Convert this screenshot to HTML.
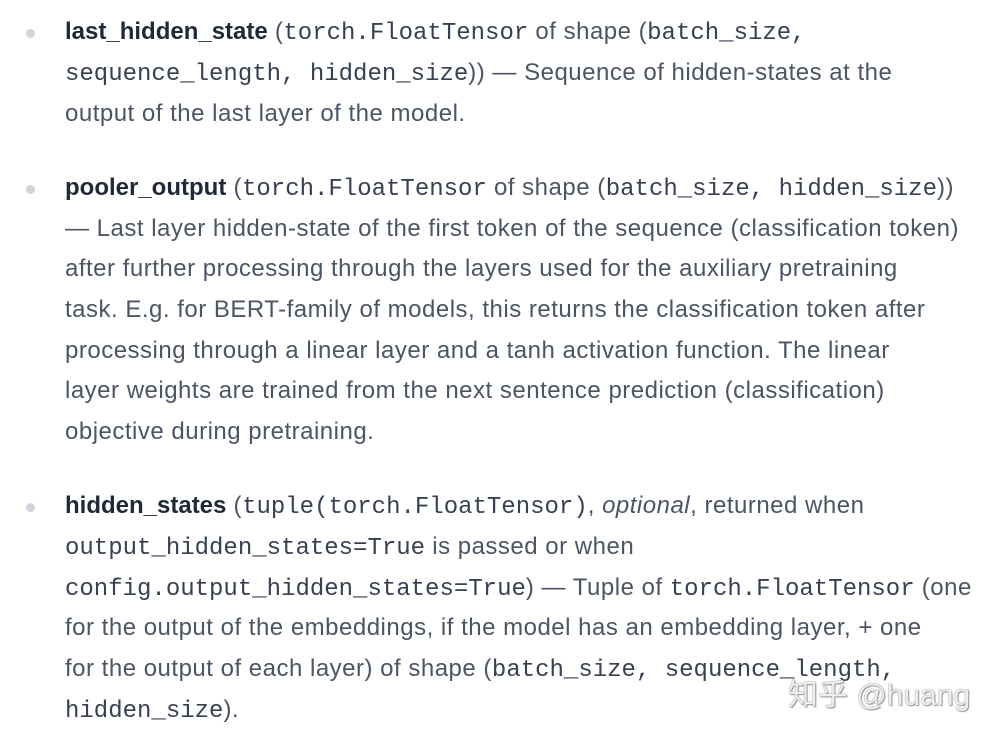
<!DOCTYPE html>
<html><head><meta charset="utf-8"><style>
body{margin:0;width:1001px;height:739px;background:#fff;position:relative;overflow:hidden;font-family:"Liberation Sans",sans-serif;font-size:24px;letter-spacing:0.5px;color:#4b5563}
.l{position:absolute;left:65px;height:40px;line-height:40px;white-space:nowrap}
b{color:#1f2937;font-weight:bold;letter-spacing:0}
code{font-family:"Liberation Mono",monospace;font-size:24px;letter-spacing:0;color:#374151}
.d{position:absolute;left:26px;width:9px;height:9px;border-radius:50%;background:#d1d5db}
.wm{position:absolute;left:788px;top:670px;font-family:"Liberation Sans","Noto Sans CJK SC",sans-serif;font-size:30px;letter-spacing:0;color:rgba(255,255,255,0.85);text-shadow:0 0 1px #888,0 0 1px #888,1px 1px 1px #999;white-space:nowrap}
</style></head><body>
<div class="d" style="top:29px"></div>
<div class="l" style="top:12px"><b>last_hidden_state</b> (<code>torch.FloatTensor</code> of shape (<code>batch_size,</code></div>
<div class="l" style="top:53px"><code>sequence_length, hidden_size</code>)) — Sequence of hidden-states at the</div>
<div class="l" style="top:94px">output of the last layer of the model.</div>

<div class="d" style="top:185px"></div>
<div class="l" style="top:168px"><b>pooler_output</b> (<code>torch.FloatTensor</code> of shape (<code>batch_size, hidden_size</code>))</div>
<div class="l" style="top:209px">— Last layer hidden-state of the first token of the sequence (classification token)</div>
<div class="l" style="top:249px">after further processing through the layers used for the auxiliary pretraining</div>
<div class="l" style="top:290px">task. E.g. for BERT-family of models, this returns the classification token after</div>
<div class="l" style="top:331px">processing through a linear layer and a tanh activation function. The linear</div>
<div class="l" style="top:371px">layer weights are trained from the next sentence prediction (classification)</div>
<div class="l" style="top:412px">objective during pretraining.</div>

<div class="d" style="top:503px"></div>
<div class="l" style="top:486px"><b>hidden_states</b> (<code>tuple(torch.FloatTensor)</code>, <i>optional</i>, returned when</div>
<div class="l" style="top:527px"><code>output_hidden_states=True</code> is passed or when</div>
<div class="l" style="top:568px"><code>config.output_hidden_states=True</code>) — Tuple of <code>torch.FloatTensor</code> (one</div>
<div class="l" style="top:608px">for the output of the embeddings, if the model has an embedding layer, + one</div>
<div class="l" style="top:649px">for the output of each layer) of shape (<code>batch_size, sequence_length,</code></div>
<div class="l" style="top:690px"><code>hidden_size</code>).</div>
<div class="wm">知乎 @huang</div>
</body></html>
